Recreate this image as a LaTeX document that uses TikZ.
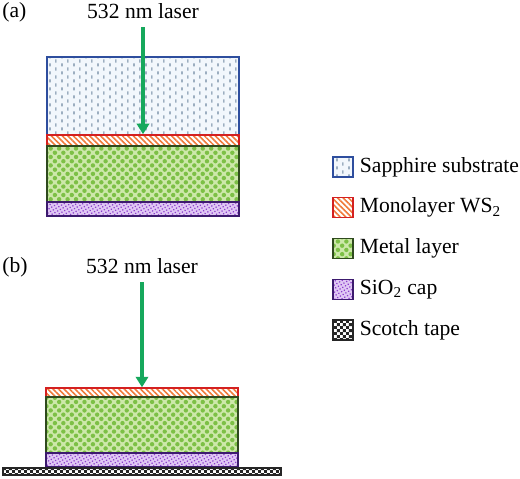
\documentclass[tikz,border=0pt]{standalone}
\usepackage{fontspec}
\setmainfont{Liberation Serif}
\usepackage{xcolor}
\usetikzlibrary{arrows.meta, positioning, patterns, patterns.meta}

\definecolor{sapB}{RGB}{46,78,158}
\definecolor{sapF}{RGB}{242,247,252}
\definecolor{sapD}{RGB}{110,135,160}
\definecolor{wsB}{RGB}{212,32,32}
\definecolor{wsD}{RGB}{240,122,58}
\definecolor{metB}{RGB}{47,74,30}
\definecolor{metF}{RGB}{205,232,170}
\definecolor{metD}{RGB}{125,192,70}
\definecolor{sioB}{RGB}{60,26,110}
\definecolor{sioF}{RGB}{224,200,244}
\definecolor{sioD}{RGB}{140,62,205}
\definecolor{laserG}{RGB}{22,168,92}

\tikzdeclarepattern{
  name=sapdash,
  type=uncolored,
  bounding box={(0,0) and (6.8pt,4.5pt)},
  tile size={(6.8pt,4.5pt)},
  code={
    \draw[line width=0.6pt] (1.7pt,0.3pt) -- (1.7pt,2.1pt);
    \draw[line width=0.6pt] (5.1pt,2.55pt) -- (5.1pt,4.35pt);
  }
}
\tikzdeclarepattern{
  name=tapecheck,
  type=uncolored,
  bounding box={(0,0) and (3.4pt,3.4pt)},
  tile size={(3.4pt,3.4pt)},
  code={
    \fill (0pt,0pt) rectangle (1.7pt,1.7pt);
    \fill (1.7pt,1.7pt) rectangle (3.4pt,3.4pt);
  }
}

\tikzset{
  layer/.style={draw, line width=0.8pt, inner sep=0pt},
  sapphire/.style={layer, draw=sapB, preaction={fill=sapF}, pattern=sapdash, pattern color=sapD},
  ws/.style={layer, draw=wsB, preaction={fill=white}, pattern={Lines[angle=-45, distance=2.2pt, line width=0.9pt]}, pattern color=wsD},
  metal/.style={layer, draw=metB, preaction={fill=metF}, pattern={Dots[angle=45, distance=3.4pt, radius=1.25pt]}, pattern color=metD},
  sio/.style={layer, draw=sioB, preaction={fill=sioF}, pattern={Dots[angle=30, distance=1.8pt, radius=0.5pt]}, pattern color=sioD},
  tape/.style={layer, draw=black!85, line width=0.7pt, preaction={fill=white}, pattern=tapecheck, pattern color=black!85},
  laser/.style={draw=laserG, line width=2.1pt, -{Triangle[length=6pt,width=7pt]}, shorten <=1.5pt},
}

\begin{document}
\begin{tikzpicture}[x=0.02cm, y=-0.02cm, font=\fontsize{12.3}{14}\selectfont]
    \useasboundingbox (0,0) rectangle (520,478);
    % (a) on sapphire
    \node(tagA) at (2,12) [anchor=west, inner sep=0pt] {(a)};
    \node(labA) at (143,11) {532 nm laser};
    \node(sapA) at (143,96) [sapphire, minimum width=3.84cm, minimum height=1.56cm] {};
    \node(wsA) at (143,140.5) [ws, minimum width=3.84cm, minimum height=0.22cm] {};
    \node(metA) at (143,174) [metal, minimum width=3.84cm, minimum height=1.12cm] {};
    \node(sioA) at (143,209) [sio, minimum width=3.84cm, minimum height=0.28cm] {};
    \draw[laser] (labA) -- (wsA.north);

    % (b) on scotch tape
    \node(tagB) at (2,267) [anchor=west, inner sep=0pt] {(b)};
    \node(labB) at (142,266) {532 nm laser};
    \node(wsB) at (142,392.5) [ws, minimum width=3.84cm, minimum height=0.18cm] {};
    \node(metB) at (142,425) [metal, minimum width=3.84cm, minimum height=1.12cm] {};
    \node(sioB) at (142,460) [sio, minimum width=3.84cm, minimum height=0.28cm] {};
    \node(tapeB) at (142,471.5) [tape, minimum width=5.56cm, minimum height=0.14cm] {};
    \draw[laser] (labB) -- (wsB.north);

    % legend
    \node(kSap) at (343,167) [sapphire, minimum size=0.4cm, label=right:Sapphire substrate] {};
    \node(kWs) at (343,207.75) [ws, minimum size=0.4cm, label=right:Monolayer WS\textsubscript{2}] {};
    \node(kMet) at (343,248.5) [metal, minimum size=0.4cm, label=right:Metal layer] {};
    \node(kSio) at (343,289.25) [sio, minimum size=0.4cm, label=right:SiO\textsubscript{2} cap] {};
    \node(kTape) at (343,330) [tape, minimum size=0.4cm, label=right:Scotch tape] {};
\end{tikzpicture}
\end{document}
